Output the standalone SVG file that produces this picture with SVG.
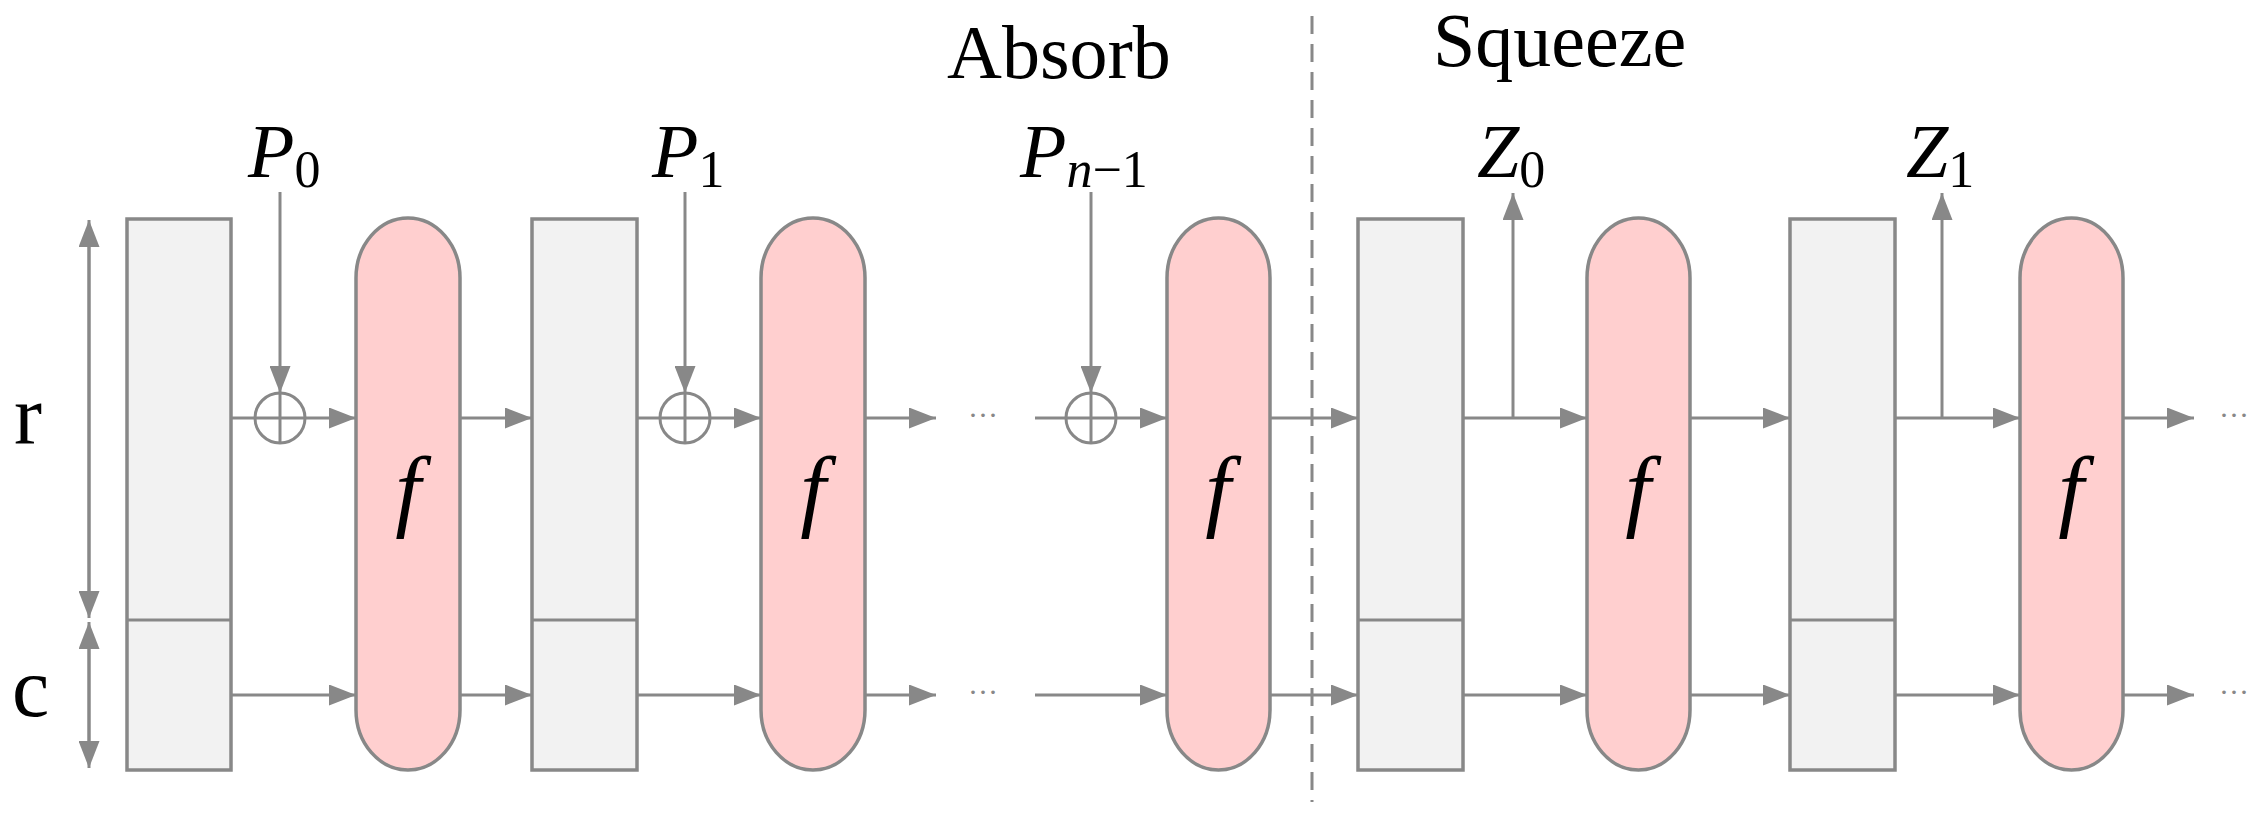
<svg xmlns="http://www.w3.org/2000/svg" width="2267" height="817" viewBox="0 0 2267 817">
<style>
.st{fill:#f2f2f2;stroke:#888;stroke-width:3.5}
.fn{fill:#ffcfcf;stroke:#888;stroke-width:3.5}
.ln{fill:none;stroke:#888;stroke-width:3}
.ar{marker-end:url(#a)}
text{font-family:"Liberation Serif",serif;fill:#000}
.lab{font-size:76px}
.big{font-size:84px}
.it{font-style:italic}
.fx{font-size:92px;font-style:italic}
.sub{font-size:52px}
.dots{font-size:30px;fill:#888}
</style>
<defs>
<marker id="a" markerWidth="9" markerHeight="7" refX="9" refY="3.5" orient="auto" markerUnits="strokeWidth"><path d="M0,0L9,3.5L0,7z" fill="#888"/></marker>
</defs>
<text class="lab" x="947" y="78">Absorb</text>
<text class="lab" x="1433" y="66">Squeeze</text>
<text class="big" x="14" y="443">r</text>
<text class="big" x="12" y="716">c</text>
<line class="ln" x1="1312" y1="16" x2="1312" y2="802" stroke-dasharray="18,10"/>
<g id="states">
<g id="s0"><rect class="st" x="127" y="219" width="104" height="551"/><line class="ln" x1="127" y1="620" x2="231" y2="620"/></g>
<g id="s1"><rect class="st" x="532" y="219" width="105" height="551"/><line class="ln" x1="532" y1="620" x2="637" y2="620"/></g>
<g id="s2"><rect class="st" x="1358" y="219" width="105" height="551"/><line class="ln" x1="1358" y1="620" x2="1463" y2="620"/></g>
<g id="s3"><rect class="st" x="1790" y="219" width="105" height="551"/><line class="ln" x1="1790" y1="620" x2="1895" y2="620"/></g>
</g>
<g id="funcs">
<g id="f0"><rect class="fn" x="356" y="218" width="104" height="552" rx="52" ry="60"/><text class="fx" x="408" y="520" text-anchor="middle">f</text></g>
<g id="f1"><rect class="fn" x="761" y="218" width="104" height="552" rx="52" ry="60"/><text class="fx" x="813" y="520" text-anchor="middle">f</text></g>
<g id="f2"><rect class="fn" x="1167" y="218" width="103" height="552" rx="52" ry="60"/><text class="fx" x="1218" y="520" text-anchor="middle">f</text></g>
<g id="f3"><rect class="fn" x="1587" y="218" width="103" height="552" rx="52" ry="60"/><text class="fx" x="1638" y="520" text-anchor="middle">f</text></g>
<g id="f4"><rect class="fn" x="2020" y="218" width="103" height="552" rx="52" ry="60"/><text class="fx" x="2071" y="520" text-anchor="middle">f</text></g>
</g>
<g id="xors">
<g id="x0"><circle class="ln" cx="280" cy="418" r="25"/><line class="ln" x1="255" y1="418" x2="305" y2="418"/><line class="ln" x1="280" y1="393" x2="280" y2="443"/></g>
<g id="x1"><circle class="ln" cx="685" cy="418" r="25"/><line class="ln" x1="660" y1="418" x2="710" y2="418"/><line class="ln" x1="685" y1="393" x2="685" y2="443"/></g>
<g id="x2"><circle class="ln" cx="1091" cy="418" r="25"/><line class="ln" x1="1066" y1="418" x2="1116" y2="418"/><line class="ln" x1="1091" y1="393" x2="1091" y2="443"/></g>
</g>
<g id="labels">
<text class="lab it" x="248" y="177">P<tspan class="sub" font-style="normal" dy="10">0</tspan></text>
<text class="lab it" x="652" y="177">P<tspan class="sub" font-style="normal" dy="10">1</tspan></text>
<text class="lab it" x="1020" y="177">P<tspan class="sub" dy="10">n</tspan><tspan class="sub" font-style="normal">−1</tspan></text>
<text class="lab it" x="1477" y="177">Z<tspan class="sub" font-style="normal" dy="10">0</tspan></text>
<text class="lab it" x="1906" y="177">Z<tspan class="sub" font-style="normal" dy="10">1</tspan></text>
<text class="dots" x="983" y="425" text-anchor="middle">···</text>
<text class="dots" x="983" y="702" text-anchor="middle">···</text>
<text class="dots" x="2234" y="425" text-anchor="middle">···</text>
<text class="dots" x="2234" y="702" text-anchor="middle">···</text>
</g>
<g id="connectors">
<line class="ln ar" x1="89" y1="240" x2="89" y2="618"/>
<line class="ln ar" x1="89" y1="600" x2="89" y2="220"/>
<line class="ln ar" x1="89" y1="640" x2="89" y2="768"/>
<line class="ln ar" x1="89" y1="750" x2="89" y2="622"/>
<line class="ln ar" x1="280" y1="192" x2="280" y2="393"/>
<line class="ln ar" x1="685" y1="192" x2="685" y2="393"/>
<line class="ln ar" x1="1091" y1="192" x2="1091" y2="393"/>
<line class="ln" x1="231" y1="418" x2="255" y2="418"/>
<line class="ln ar" x1="305" y1="418" x2="356" y2="418"/>
<line class="ln ar" x1="460" y1="418" x2="532" y2="418"/>
<line class="ln" x1="637" y1="418" x2="660" y2="418"/>
<line class="ln ar" x1="710" y1="418" x2="761" y2="418"/>
<line class="ln ar" x1="865" y1="418" x2="936" y2="418"/>
<line class="ln" x1="1035" y1="418" x2="1066" y2="418"/>
<line class="ln ar" x1="1116" y1="418" x2="1167" y2="418"/>
<line class="ln ar" x1="1270" y1="418" x2="1358" y2="418"/>
<line class="ln ar" x1="1463" y1="418" x2="1587" y2="418"/>
<line class="ln ar" x1="1513" y1="418" x2="1513" y2="193"/>
<line class="ln ar" x1="1690" y1="418" x2="1790" y2="418"/>
<line class="ln ar" x1="1895" y1="418" x2="2020" y2="418"/>
<line class="ln ar" x1="1942" y1="418" x2="1942" y2="193"/>
<line class="ln ar" x1="2123" y1="418" x2="2194" y2="418"/>
<line class="ln ar" x1="231" y1="695" x2="356" y2="695"/>
<line class="ln ar" x1="460" y1="695" x2="532" y2="695"/>
<line class="ln ar" x1="637" y1="695" x2="761" y2="695"/>
<line class="ln ar" x1="865" y1="695" x2="936" y2="695"/>
<line class="ln ar" x1="1035" y1="695" x2="1167" y2="695"/>
<line class="ln ar" x1="1270" y1="695" x2="1358" y2="695"/>
<line class="ln ar" x1="1463" y1="695" x2="1587" y2="695"/>
<line class="ln ar" x1="1690" y1="695" x2="1790" y2="695"/>
<line class="ln ar" x1="1895" y1="695" x2="2020" y2="695"/>
<line class="ln ar" x1="2123" y1="695" x2="2194" y2="695"/>
</g>
</svg>
